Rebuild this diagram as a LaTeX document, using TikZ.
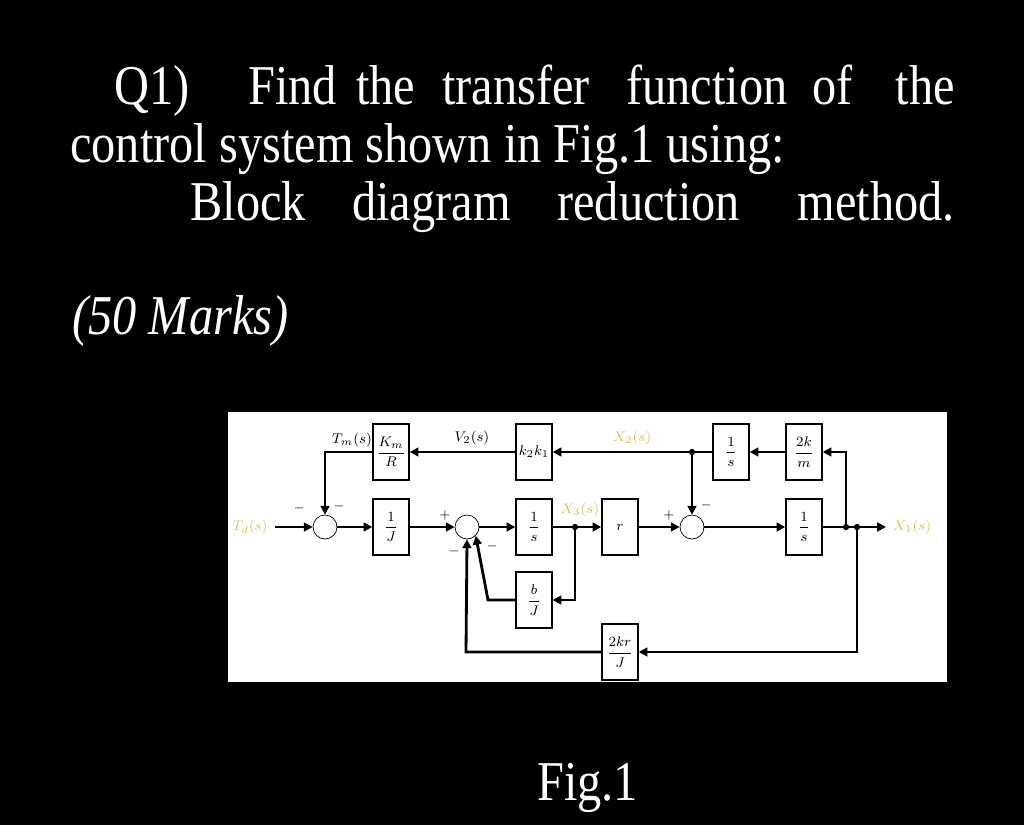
\documentclass[tikz,border=0pt]{standalone}
\usepackage{fontspec}
\setmainfont{Liberation Serif}
\newfontfamily\titlefont[FakeStretch=0.86]{Liberation Serif}
\usetikzlibrary{arrows.meta}
\definecolor{lab}{HTML}{D4C35A}
\begin{document}
\begin{tikzpicture}[x=0.02cm,y=-0.02cm,
  blk/.style={draw,thick,fill=white,minimum width=0.72cm,minimum height=1.12cm,inner sep=0pt,font=\fontsize{8.5}{9}\selectfont},
  sumc/.style={draw,fill=white,circle,minimum size=0.48cm,inner sep=0pt},
  sig/.style={-{Triangle[length=5pt,width=5pt]},line width=1.6pt},
  sg/.style={font=\fontsize{7}{8}\selectfont},
  lb/.style={font=\fontsize{8}{9}\selectfont},
  tt/.style={text=white,font=\titlefont\fontsize{32}{34}\selectfont,anchor=base west,inner sep=0pt}]
\fill[black] (0,0) rectangle (1024,825);
\useasboundingbox (0,0) rectangle (1024,825);
\fill[white] (228,412) rectangle (947,682);
% title
\node[tt] at (114,104) {Q1)};
\node[tt] at (248,104) {Find};
\node[tt] at (356,104) {the};
\node[tt] at (442,104) {transfer};
\node[tt] at (626,104) {function};
\node[tt] at (812,104) {of};
\node[tt,anchor=base east] at (955,104) {the};
\node[tt] at (70,162) {control system shown in Fig.1 using:};
\node[tt] at (190,220) {Block};
\node[tt] at (352,220) {diagram};
\node[tt] at (557,220) {reduction};
\node[tt,anchor=base east] at (955,220) {method.};
\node[tt,font=\titlefont\fontsize{32}{34}\selectfont\itshape] at (72,334) {(50 Marks)};
\node[tt] at (537,800) {Fig.1};
% blocks
\node[blk] (kmr) at (391,452) {$\displaystyle\frac{K_m}{R}$};
\node[blk] (ij) at (391,527) {$\displaystyle\frac{1}{J}$};
\node[blk] (kk) at (534,452) {$k_2k_1$};
\node[blk] (is1) at (534,527) {$\displaystyle\frac{1}{s}$};
\node[blk] (bj) at (534,600) {$\displaystyle\frac{b}{J}$};
\node[blk] (r) at (620,527) {$r$};
\node[blk] (is2) at (731,452) {$\displaystyle\frac{1}{s}$};
\node[blk] (km) at (804,452) {$\displaystyle\frac{2k}{m}$};
\node[blk] (is3) at (804,527) {$\displaystyle\frac{1}{s}$};
\node[blk] (krj) at (620,652) {$\displaystyle\frac{2kr}{J}$};
\node[sumc] (s1) at (325,527) {};
\node[sumc] (s2) at (467,527) {};
\node[sumc] (s3) at (692,527) {};
% coordinates
\coordinate (tdin) at (275,527);
\coordinate (out) at (886,527);
\coordinate (b1) at (846,527);
\coordinate (b2) at (857,527);
\coordinate (b3) at (575,527);
\coordinate (b4) at (692,452);
% labels
\node[lb,text=lab] (td) at (250,527) {$T_d(s)$};
\node[lb,text=lab] at (912,527) {$X_1(s)$};
\node[lb,text=lab] at (632,438) {$X_2(s)$};
\node[lb,text=lab] at (580,510) {$X_3(s)$};
\node[lb] at (472,438) {$V_2(s)$};
\node[lb] at (352,440) {$T_m(s)$};
% signs
\node[sg] at (299,508) {$-$};
\node[sg] at (339,506) {$-$};
\node[sg] at (445,515) {$+$};
\node[sg] at (454,551) {$-$};
\node[sg] at (492,546) {$-$};
\node[sg] at (669,515) {$+$};
\node[sg] at (706,505) {$-$};
% forward path
\draw[sig] (tdin) -- (s1);
\draw[sig] (s1) -- (ij);
\draw[sig] (ij) -- (s2);
\draw[sig] (s2) -- (is1);
\draw[sig] (is1) -- (r);
\draw[sig] (r) -- (s3);
\draw[sig] (s3) -- (is3);
\draw[sig] (is3) -- (out);
% upper feedback
\draw[sig] (b1) |- (km);
\draw[sig] (km) -- (is2);
\draw[sig] (is2) -- (kk);
\draw[sig] (kk) -- (kmr);
\draw[sig] (kmr) -| (s1);
\draw[sig] (b4) -- (s3);
% b/J loop
\draw[sig] (b3) |- (bj);
\draw[sig] (bj.west) -- (488,600) -- (s2.south east);
% 2kr/J loop
\draw[sig] (b2) |- (krj);
\draw[sig] (krj.west) -- (466,652) -- (s2.south);
\fill (b1) circle (1.8pt) (b2) circle (1.8pt) (b3) circle (1.8pt) (b4) circle (1.8pt);
\end{tikzpicture}
\end{document}
